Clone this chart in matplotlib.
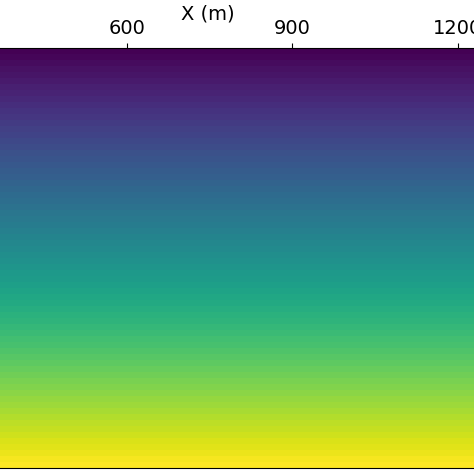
import numpy as np
import matplotlib.pyplot as plt

# layer values (top to bottom), one per horizontal band
layer_values = [1500, 1520, 1540, 1560, 1580, 1600, 1620, 1640, 1660, 1680,
                1700, 1720, 1740, 1760, 1780, 1800, 1820, 1840, 1860, 1880,
                1900, 1920, 1940, 1960, 1980, 2000, 2020, 2040, 2060, 2080,
                2100, 2120, 2140, 2160, 2180, 2200, 2220, 2240, 2260, 2280,
                2300, 2320, 2340, 2360, 2380, 2400, 2420, 2440, 2460, 2480,
                2500, 2520, 2540, 2560, 2580, 2600, 2620, 2640, 2660, 2680,
                2700, 2720, 2740, 2760, 2780, 2800, 2820, 2840, 2860, 2880]
x_ticks = [600, 900, 1200]

fig = plt.figure(figsize=(4.74, 4.74), dpi=100)
ax = fig.add_axes([0, 0.0127, 1.0, 0.886])

model = np.array(layer_values, dtype=float)[:, None] * np.ones((1, 2))
ax.imshow(model, cmap='viridis', aspect='auto', interpolation='nearest',
          extent=[370, 1229, len(layer_values), 0])
ax.set_xlim(370, 1229)
ax.xaxis.tick_top()
ax.xaxis.set_label_position('top')
ax.set_xticks(x_ticks)
ax.set_xlabel('X (m)', fontsize=14)
ax.xaxis.set_label_coords(0.439, 1.068)
ax.tick_params(axis='x', labelsize=14)
ax.set_yticks([])
for s in ['left', 'right']:
    ax.spines[s].set_visible(False)

fig.savefig('out.png', dpi=100)
